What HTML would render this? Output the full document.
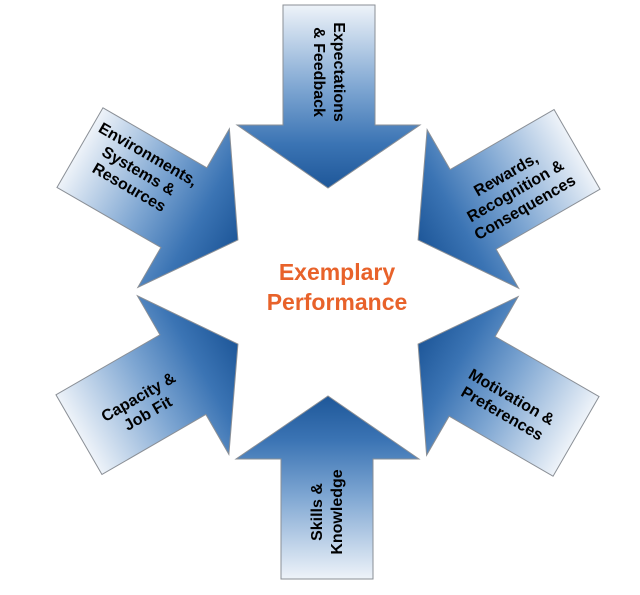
<!DOCTYPE html>
<html><head><meta charset="utf-8"><style>
html,body{margin:0;padding:0;background:#fff;}
svg{display:block;}
text{font-family:"Liberation Sans",sans-serif;font-weight:bold;}
</style></head><body>
<svg width="640" height="595" viewBox="0 0 640 595" xmlns="http://www.w3.org/2000/svg">
<defs>
<linearGradient id="g" gradientUnits="userSpaceOnUse" x1="0" y1="5" x2="0" y2="190">
<stop offset="0" stop-color="#eef3f9"/>
<stop offset="0.45" stop-color="#7ea6d2"/>
<stop offset="0.75" stop-color="#3b74b4"/>
<stop offset="1" stop-color="#1d5698"/>
</linearGradient>
<polygon id="a" points="283,5 375,5 375,125 420,125 328,188 237,125 283,125" fill="url(#g)" stroke="#8a8f96" stroke-width="1"/>
</defs>
<g transform="rotate(0 328 292)"><use href="#a"/></g>
<g transform="rotate(60 328 292)"><use href="#a"/></g>
<g transform="rotate(120 328 292)"><use href="#a"/></g>
<g transform="rotate(180 328 292)"><use href="#a"/></g>
<g transform="rotate(240 328 292)"><use href="#a"/></g>
<g transform="rotate(300 328 292)"><use href="#a"/></g>
<g font-size="16" fill="#000" text-anchor="middle">
<text transform="translate(328,72) rotate(90)"><tspan x="0" y="-6">Expectations</tspan><tspan x="0" y="14">&amp; Feedback</tspan></text>
<text transform="translate(328,512) rotate(-90)"><tspan x="0" y="-6">Skills &amp;</tspan><tspan x="0" y="14">Knowledge</tspan></text>
<text transform="translate(516,192) rotate(-30)"><tspan x="0" y="-15">Rewards,</tspan><tspan x="0" y="4">Recognition &amp;</tspan><tspan x="0" y="23">Consequences</tspan></text>
<text transform="translate(138,172) rotate(30)"><tspan x="0" y="-15">Environments,</tspan><tspan x="0" y="4">Systems &amp;</tspan><tspan x="0" y="23">Resources</tspan></text>
<text transform="translate(507,405) rotate(30)"><tspan x="0" y="-4">Motivation &amp;</tspan><tspan x="0" y="15">Preferences</tspan></text>
<text transform="translate(143,405) rotate(-30)"><tspan x="0" y="-4">Capacity &amp;</tspan><tspan x="0" y="15">Job Fit</tspan></text>
</g>
<g font-size="23" fill="#e8622a" text-anchor="middle">
<text x="337" y="280">Exemplary</text>
<text x="337" y="310">Performance</text>
</g>
</svg>
</body></html>
